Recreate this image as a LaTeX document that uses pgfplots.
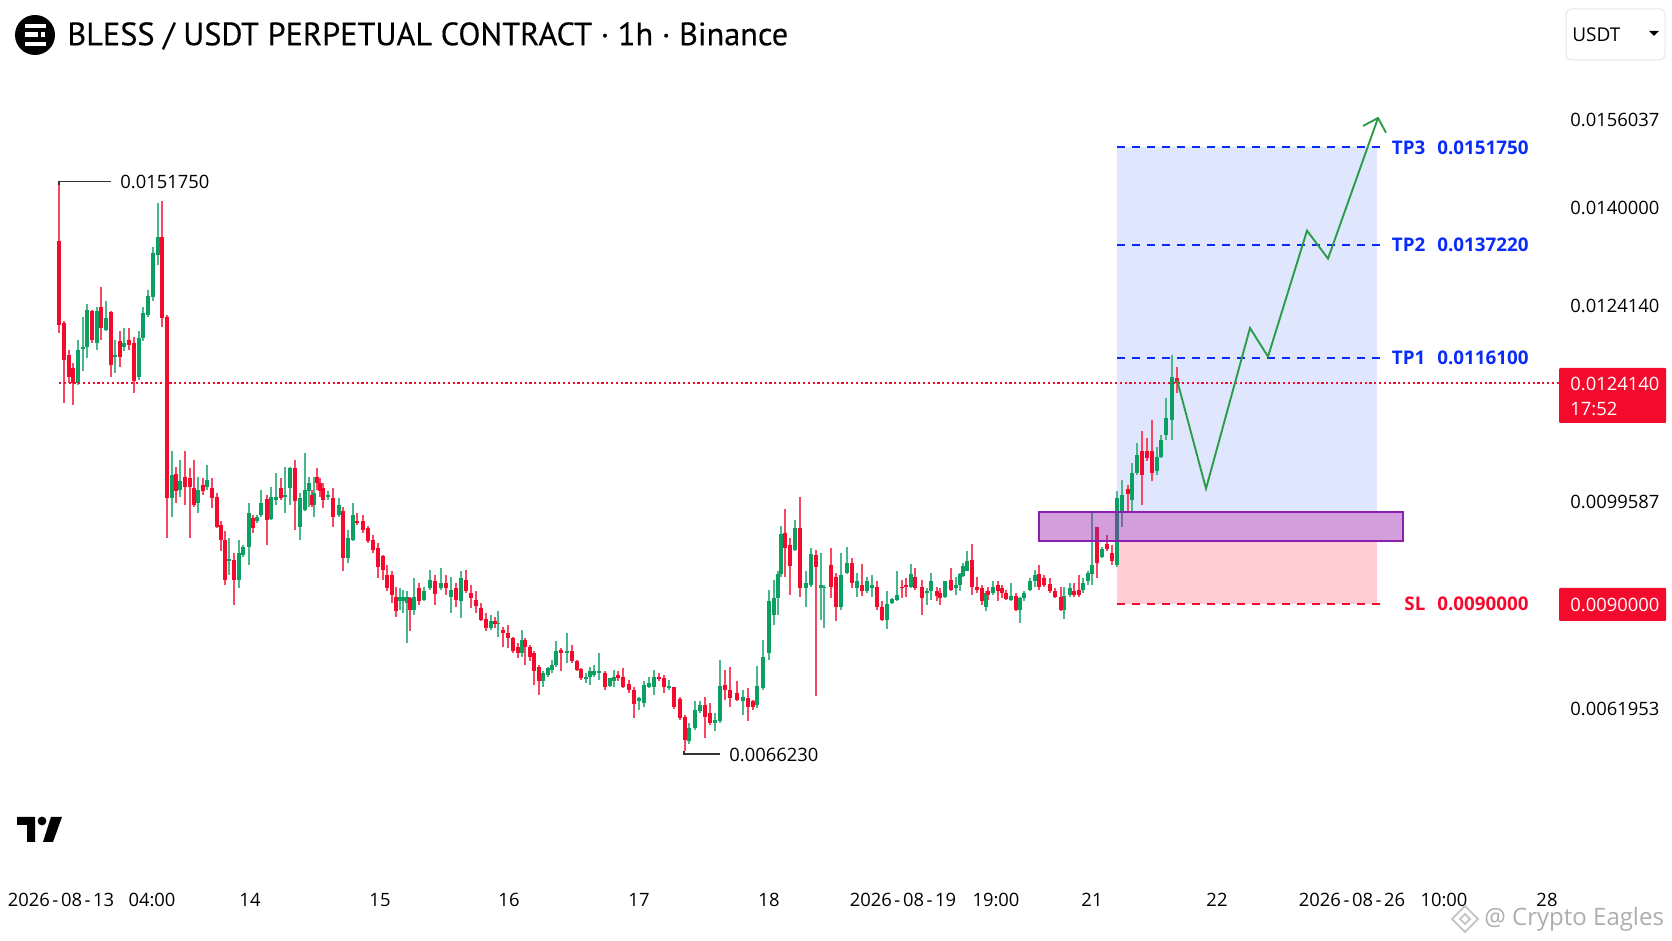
\documentclass[border=0pt]{standalone}
\usepackage{fontspec}
\setmainfont{Open Sans}
\newfontfamily\titlefont[FakeBold=0.25]{PT Sans}
\usepackage{pgfplots}
\usepackage{pgfplotstable}
\pgfplotsset{compat=1.18}
\definecolor{cgreen}{HTML}{0B9F62}
\definecolor{cred}{HTML}{F40A2C}
\definecolor{tpblue}{HTML}{0A2CFA}
\definecolor{fblue}{HTML}{DFE6FD}
\definecolor{fred}{HTML}{FFCDD3}
\definecolor{pband}{HTML}{9C27B0}
\definecolor{pstroke}{HTML}{8A1FB0}
\definecolor{arrowg}{HTML}{2A9D48}
% columns: time position, high, body top, body bottom, low (price in 0.00001 USDT)
\pgfplotstableread{
x h t b l
78 1287 1272 1222 1220
83 1322 1277 1273 1240
87 1341 1332 1277 1260
97 1337 1330 1282 1272
106 1345 1320 1302 1300
115 1287 1265 1261 1237
124 1305 1283 1277 1270
139 1300 1290 1232 1227
143 1337 1327 1290 1285
148 1362 1353 1325 1322
153 1427 1417 1352 1345
158 1492 1441 1415 1400
172 1120 1085 1050 1022
180 1107 1075 1062 1052
198 1082 1062 1042 1027
207 1100 1077 1066 1062
229 990 958 955 935
239 987 967 927 915
243 980 977 965 962
249 1042 1027 977 950
257 1025 1022 1015 1012
261 1062 1042 1025 1022
271 1067 1052 1018 1017
276 1087 1052 1047 1040
285 1097 1055 1051 1027
290 1097 1095 1065 1040
300 1057 1050 1007 987
305 1117 1062 1032 1030
309 1082 1072 1060 1037
314 1082 1057 1040 1022
328 1060 1055 1052 1047
339 1050 1040 1025 1022
348 1002 990 960 952
353 1042 1024 987 985
400 915 902 895 882
403 912 902 895 877
407 910 902 892 832
414 930 902 882 875
424 917 910 897 895
430 942 927 915 912
441 945 922 915 912
451 932 912 902 877
461 940 930 895 870
491 875 865 855 852
498 880 863 861 842
522 852 837 817 812
543 790 787 775 767
548 797 795 785 782
552 807 800 792 787
556 835 820 800 797
567 848 820 817 802
586 787 782 778 772
590 797 790 782 770
594 800 791 785 782
599 817 791 787 777
610 780 780 768 767
614 792 782 776 767
639 752 750 745 732
644 775 770 742 737
649 782 772 767 765
654 792 781 767 755
669 777 768 765 762
689 712 705 685 681
695 745 732 705 702
700 745 740 730 727
715 727 717 712 700
720 807 768 715 712
743 762 752 745 725
757 798 768 740 735
763 837 812 765 762
769 912 895 817 807
774 927 900 875 860
778 940 936 900 875
781 1008 996 936 932
795 1017 1005 972 970
806 940 923 915 887
811 975 966 920 917
821 967 920 915 867
824 920 917 916 855
841 967 935 887 882
847 977 953 937 936
857 937 926 915 902
867 932 925 911 907
872 935 920 915 902
887 910 891 867 853
892 900 898 892 891
897 940 905 897 895
911 951 936 917 915
927 915 910 907 890
931 937 925 910 897
945 925 925 902 900
956 932 920 915 905
960 937 936 920 910
963 953 948 933 932
967 970 956 941 940
986 910 907 886 880
993 925 917 907 905
1011 922 903 897 895
1020 902 900 882 862
1024 910 907 900 895
1030 930 925 912 910
1035 942 935 925 917
1064 917 903 882 868
1070 922 915 905 902
1083 930 922 912 907
1088 940 937 925 920
1092 1027 950 936 920
1102 977 973 962 960
1117 1060 1050 950 947
1122 1077 1055 1027 1007
1132 1102 1087 1047 1027
1137 1132 1115 1087 1085
1157 1127 1112 1090 1085
1161 1145 1137 1112 1110
1166 1200 1170 1145 1137
1172 1265 1232 1167 1137
}\upcandles
\pgfplotstableread{
x h t b l
59 1525 1436 1310 1297
64 1315 1312 1257 1192
69 1272 1265 1232 1222
73 1252 1245 1222 1190
92 1332 1331 1287 1282
101 1367 1337 1305 1287
111 1330 1329 1250 1232
120 1300 1285 1261 1247
129 1305 1287 1280 1272
134 1292 1283 1225 1207
162 1495 1441 1320 1307
167 1325 1321 1050 990
176 1097 1086 1061 1042
185 1120 1082 1067 1040
190 1095 1080 1067 990
194 1107 1065 1040 1037
203 1080 1070 1060 1055
212 1080 1065 1050 1035
217 1057 1051 1007 1005
221 1015 1010 987 970
225 1000 987 927 920
234 967 957 927 890
253 1025 1020 1005 997
267 1055 1048 1017 980
281 1080 1065 1050 1047
295 1107 1095 1045 1002
312 1062 1055 1040 1037
317 1095 1082 1072 1062
320 1080 1072 1060 1052
323 1072 1065 1047 1035
333 1065 1050 1022 1007
343 1037 1030 960 940
357 1027 1015 1012 1010
363 1025 1015 1002 997
368 1008 1005 985 982
373 995 987 972 967
378 982 975 947 930
383 965 963 942 927
387 950 935 915 910
392 940 935 905 892
396 917 902 880 872
410 902 900 882 850
419 922 915 895 890
435 935 925 906 890
446 935 922 915 905
456 922 915 897 887
466 942 927 910 907
471 920 908 900 885
476 910 897 888 877
481 892 885 867 865
486 877 868 855 850
495 872 866 861 855
503 857 852 847 827
508 860 847 840 825
513 842 840 820 817
518 832 827 817 810
525 840 837 826 800
530 830 827 812 805
534 820 817 790 770
539 800 797 775 755
561 825 822 817 790
572 830 820 805 802
577 807 805 792 790
581 795 793 780 777
605 790 788 767 762
618 790 785 780 775
623 795 781 767 765
629 777 771 762 757
634 767 762 741 720
659 787 781 778 776
664 785 780 766 757
674 767 766 737 733
680 751 748 720 717
685 725 721 687 670
705 752 740 722 690
710 742 727 712 710
725 792 770 762 747
730 796 762 750 737
737 775 757 747 745
748 765 750 737 715
753 747 745 736 732
785 1033 997 975 932
790 990 980 948 905
800 1051 1005 915 902
816 972 965 947 753
831 975 950 917 900
836 937 932 887 865
852 960 953 922 915
862 951 920 911 903
877 925 916 887 882
882 895 886 867 865
902 927 917 915 900
906 930 920 916 902
915 945 932 915 912
922 927 916 900 875
937 917 910 903 895
940 915 907 900 890
951 945 927 912 910
972 981 957 917 905
977 932 917 912 907
982 920 915 895 890
988 917 910 905 897
998 925 920 911 895
1002 920 915 907 900
1006 912 907 898 897
1016 907 903 882 880
1039 950 936 917 912
1044 935 930 920 917
1050 930 921 910 907
1055 915 910 902 900
1061 917 902 882 880
1074 922 910 905 902
1079 935 912 905 902
1097 1007 1006 952 930
1107 995 981 973 970
1112 980 967 955 950
1128 1070 1063 1056 1030
1142 1150 1120 1085 1040
1147 1140 1120 1110 1105
1152 1167 1121 1087 1075
1177 1247 1230 1222 1207
}\downcandles
\newcommand{\hy}{\kern1.3pt-\kern1.3pt}
\begin{document}
\begin{tikzpicture}
\useasboundingbox (0,0) rectangle (836pt,470.5pt);
\begin{axis}[
  at={(0pt,30.5pt)}, anchor=south west,
  width=785pt, height=410pt, scale only axis,
  xmin=0, xmax=1570, ymin=477, ymax=1707,
  axis line style={draw=none},
  major tick length=0pt, minor tick length=0pt,
  tick style={draw=none},
  clip=false,
  xtick={61,152,250,380,509,639,769,903,996,1092,1217,1352,1444,1547},
  xticklabels={2026\hy08\hy13,04:00,14,15,16,17,18,2026\hy08\hy19,19:00,21,22,2026\hy08\hy26,10:00,28},
  ytick={735,1045.5,1339.5,1486.5,1618.5},
  yticklabels={0.0061953,0.0099587,0.0124140,0.0140000,0.0156037},
  ytick pos=right, yticklabel pos=right,
  xticklabel style={anchor=center, yshift=-10pt, font=\fontsize{9.2}{11}\selectfont, text=black},
  yticklabel style={anchor=west, inner xsep=0pt, yshift=-0.5pt, font=\fontsize{9.2}{11}\selectfont, text=black},
  every axis plot/.append style={forget plot},
  candle/.style n args={2}{draw=none, no markers, error bars/.cd, y dir=minus, y explicit, error mark=none,
    error bar style={line width=#1, color=#2, solid}},
]
% zones
\addplot[fill=fblue, draw=none] coordinates {(1117,1576)(1377,1576)(1377,1029)(1117,1029)} --cycle;
\addplot[fill=fred, draw=none] coordinates {(1117,986)(1377,986)(1377,891)(1117,891)} --cycle;
% wicks
\addplot[candle={0.55pt}{cgreen!75}]
  table[x=x, y=h, y error minus expr=\thisrow{h}-\thisrow{l}] {\upcandles};
\addplot[candle={0.55pt}{cred!75}]
  table[x=x, y=h, y error minus expr=\thisrow{h}-\thisrow{l}] {\downcandles};
% bodies
\addplot[candle={2pt}{cgreen}]
  table[x=x, y=t, y error minus expr=\thisrow{t}-\thisrow{b}] {\upcandles};
\addplot[candle={2pt}{cred}]
  table[x=x, y=t, y error minus expr=\thisrow{t}-\thisrow{b}] {\downcandles};
% order block
\addplot[fill=pband, fill opacity=0.45, draw=pstroke, line width=0.9pt] coordinates {(1039,1029)(1403,1029)(1403,986)(1039,986)} --cycle;
% levels
\addplot[cred, line width=0.9pt, dash pattern=on 1.1pt off 1.3pt] coordinates {(59,1222.5)(1559,1222.5)};
\addplot[tpblue, line width=0.8pt, dash pattern=on 4pt off 3.5pt] coordinates {(1117,1576.3)(1381,1576.3)};
\addplot[tpblue, line width=0.8pt, dash pattern=on 4pt off 3.5pt] coordinates {(1117,1429.6)(1381,1429.6)};
\addplot[tpblue, line width=0.8pt, dash pattern=on 4pt off 3.5pt] coordinates {(1117,1260)(1381,1260)};
\addplot[cred, line width=0.8pt, dash pattern=on 4pt off 3.5pt] coordinates {(1117,891)(1381,891)};
% projected path
\addplot[arrowg, line width=0.95pt, line join=miter] coordinates {(1177,1227)(1206,1064)(1250,1305)(1268,1262)(1307,1451)(1328,1409)(1378,1620)};
\addplot[arrowg, line width=0.95pt] coordinates {(1363,1608)(1378,1620)(1386,1598)};
% high and low leaders
\addplot[black!80, line width=0.6pt] coordinates {(59,1520)(59,1525)(111,1525)};
\addplot[black!80, line width=0.6pt] coordinates {(684,670)(684,666)(720,666)};
\node[anchor=west, inner sep=0pt, yshift=-0.5pt, font=\fontsize{9.2}{11}\selectfont] at (axis cs:120,1525) {0.0151750};
\node[anchor=west, inner sep=0pt, yshift=-0.5pt, font=\fontsize{9.2}{11}\selectfont] at (axis cs:729,666) {0.0066230};
\node[anchor=east, inner sep=0pt, text=tpblue, font=\fontsize{9.4}{11}\selectfont\bfseries] at (axis cs:1529,1576) {TP3\hspace{6pt}0.0151750};
\node[anchor=east, inner sep=0pt, text=tpblue, font=\fontsize{9.4}{11}\selectfont\bfseries] at (axis cs:1529,1430) {TP2\hspace{6pt}0.0137220};
\node[anchor=east, inner sep=0pt, text=tpblue, font=\fontsize{9.4}{11}\selectfont\bfseries] at (axis cs:1529,1260) {TP1\hspace{6pt}0.0116100};
\node[anchor=east, inner sep=0pt, text=cred, font=\fontsize{9.4}{11}\selectfont\bfseries] at (axis cs:1529,891) {SL\hspace{6pt}0.0090000};
\end{axis}
\begin{scope}[x=0.5pt,y=-0.5pt,yshift=470.5pt]
% title
\fill[black] (35,35) circle (20);
\fill[white] (25,24) rectangle (46,28);
\fill[white] (25,32) rectangle (38,37);
\fill[white] (41,32) rectangle (45,37);
\fill[white] (25,42) rectangle (46,46);
\node[anchor=west, inner sep=0pt, font=\titlefont\fontsize{16.15}{18}\selectfont] at (67,36) {BLESS / USDT PERPETUAL CONTRACT · 1h · Binance};
% currency box
\draw[black!10, line width=0.5pt, rounded corners=2.5pt] (1566,9) rectangle (1665,60);
\node[anchor=west, inner sep=0pt, font=\fontsize{9.5}{11}\selectfont] at (1572,35) {USDT};
\fill[black] (1649,31) -- (1659,31) -- (1654,36) -- cycle;
% price tags
\fill[cred, rounded corners=0.5pt] (1559,368) rectangle (1666,423);
\fill[cred, rounded corners=0.5pt] (1559,588) rectangle (1666,621);
\node[anchor=west, inner sep=0pt, text=white, font=\fontsize{9.2}{11}\selectfont] at (1570,384) {0.0124140};
\node[anchor=west, inner sep=0pt, text=white, font=\fontsize{9.2}{11}\selectfont] at (1570,409) {17:52};
\node[anchor=west, inner sep=0pt, text=white, font=\fontsize{9.2}{11}\selectfont] at (1570,605) {0.0090000};
% TradingView mark
\fill[black] (17,817) -- (35,817) -- (35,842) -- (27,842) -- (27,825) -- (17,825) -- cycle;
\fill[black] (42,821) circle (4.4);
\fill[black] (51,817) -- (62,817) -- (53,842) -- (43,842) -- cycle;
% watermark
\node[anchor=west, inner sep=0pt, text=black!32, font=\fontsize{12}{14}\selectfont] at (1484,919) {@ Crypto Eagles};
\draw[black!22, line width=0.9pt] (1465,906) -- (1478,919) -- (1465,932) -- (1452,919) -- cycle;
\draw[black!22, line width=0.9pt] (1465,914) -- (1470,919) -- (1465,924) -- (1460,919) -- cycle;
\end{scope}
\end{tikzpicture}
\end{document}
